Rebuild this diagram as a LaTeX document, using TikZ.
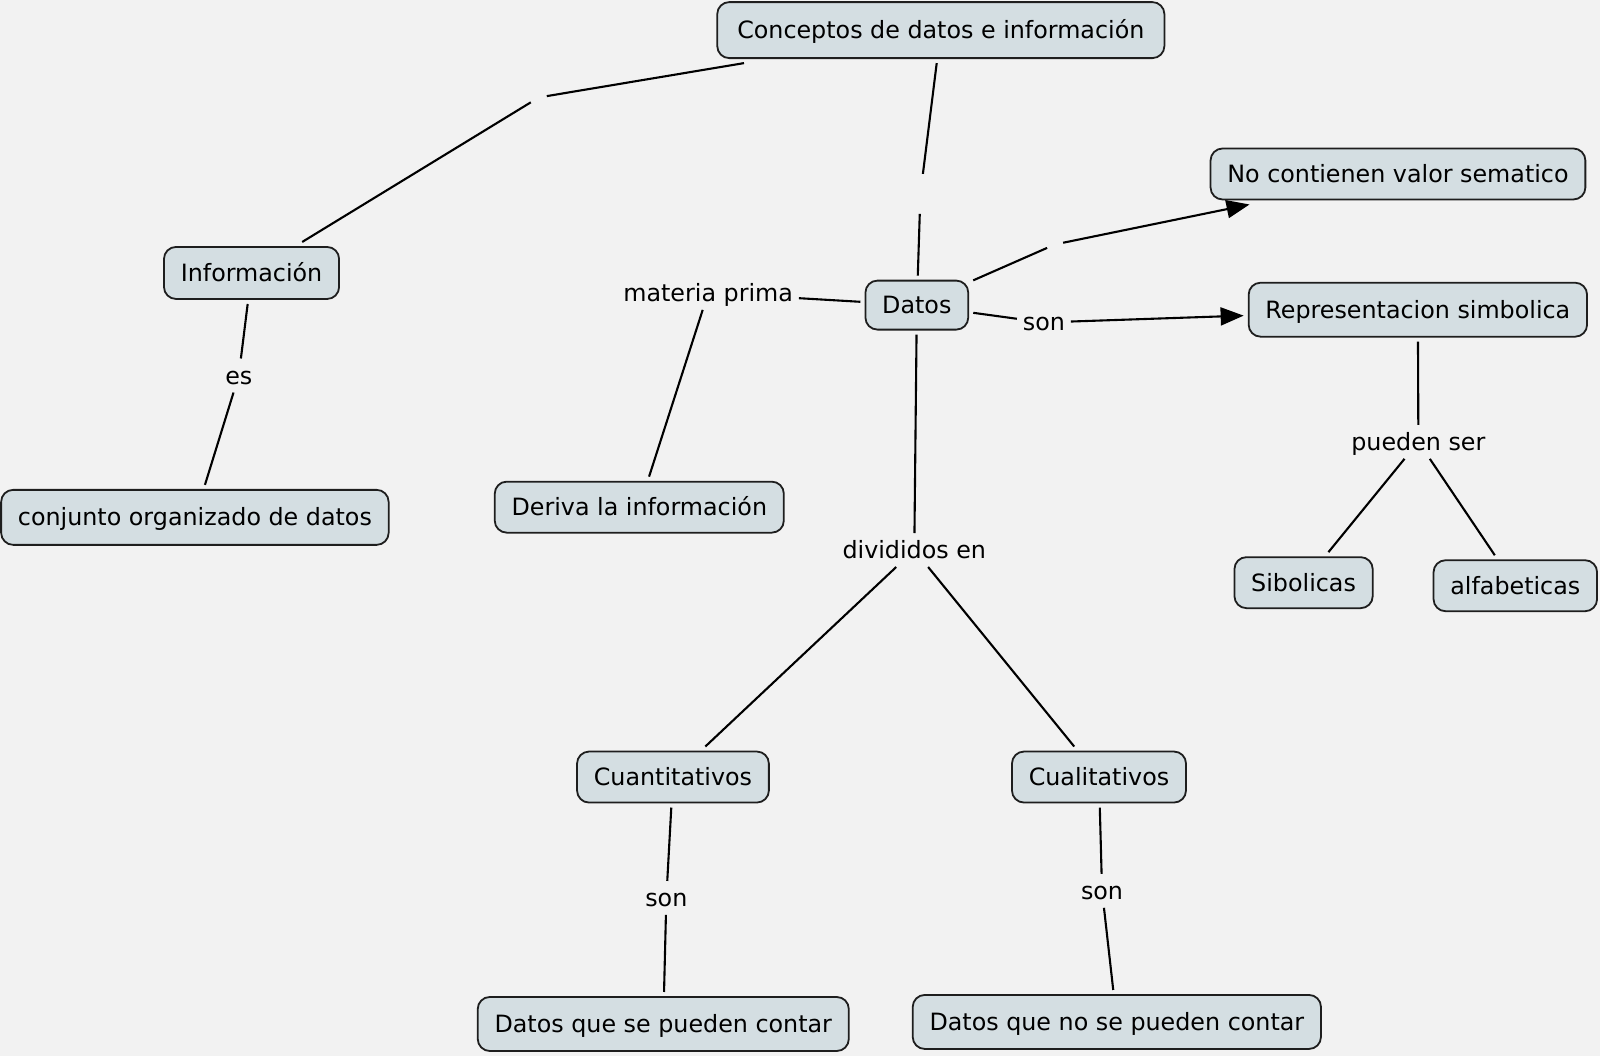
\documentclass[tikz,border=0pt]{standalone}
\usepackage{fontspec}
\setmainfont{DejaVu Sans}
\usetikzlibrary{arrows.meta}
\definecolor{bg}{HTML}{F2F2F2}
\definecolor{boxfill}{HTML}{D4DEE2}
\definecolor{boxline}{HTML}{1E1E1E}
\begin{document}
\begin{tikzpicture}[x=1.0204pt,y=-1.0204pt,
  concept/.style={draw=boxline, line width=1.8pt, fill=boxfill, rounded corners=12pt,
    inner xsep=16.8pt, inner ysep=0pt, minimum height=51pt, outer sep=5pt,
    text height=21.5pt, text depth=4.5pt, font=\fontsize{23.8}{28}\selectfont},
  linklabel/.style={inner xsep=4pt, inner ysep=2pt, outer sep=2pt, text height=21.5pt, text depth=4.5pt,
    font=\fontsize{23.8}{28}\selectfont},
  emptylabel/.style={minimum width=16pt, minimum height=40pt, inner sep=0pt, outer sep=0pt},
  conn/.style={line width=2.1pt, draw=black},
  arr/.style={conn, -{Triangle[length=23pt,width=18pt]}}
]
\fill[bg] (0,0) rectangle (1568,1035);
\useasboundingbox (0,0) rectangle (1568,1035);

% concepts
\node[concept, minimum height=56pt, inner xsep=20pt] (cdi) at (922,29.5) {Conceptos de datos e información};
\node[concept, minimum height=52pt] (inf) at (246.5,267.5) {Información};
\node[concept, minimum height=55pt] (coj) at (191,507) {conjunto organizado de datos};
\node[concept] (der) at (626.5,497) {Deriva la información};
\node[concept, minimum height=49pt] (dat) at (898.5,299) {Datos};
\node[concept] (ncv) at (1370,170.5) {No contienen valor sematico};
\node[concept, minimum height=54pt] (rep) at (1389.5,303.5) {Representacion simbolica};
\node[concept] (sib) at (1277.5,571) {Sibolicas};
\node[concept] (alf) at (1485,574) {alfabeticas};
\node[concept] (cnt) at (659.5,761.5) {Cuantitativos};
\node[concept] (cul) at (1077,761.5) {Cualitativos};
\node[concept, minimum height=54pt] (dsc) at (650,1003.5) {Datos que se pueden contar};
\node[concept, minimum height=54pt] (dnc) at (1094.5,1001.5) {Datos que no se pueden contar};

% link labels
\node[emptylabel] (l1) at (528,95.5) {};
\node[emptylabel] (l2) at (902,190) {};
\node[emptylabel] (l3) at (1034,239.5) {};
\node[linklabel] (les) at (234,368) {es};
\node[linklabel] (lmp) at (694,287) {materia prima};
\node[linklabel] (lson) at (1023,316) {son};
\node[linklabel] (ldiv) at (896,539) {divididos en};
\node[linklabel] (lps) at (1390,433) {pueden ser};
\node[linklabel] (lson2) at (653,880) {son};
\node[linklabel] (lson3) at (1080,873) {son};

% connectors
\draw[conn] (cdi) -- (l1) -- (inf);
\draw[conn] (cdi) -- (l2) -- (dat);
\draw[conn] (inf) -- (les) -- (coj);
\draw[conn] (dat) -- (lmp) -- (der);
\draw[conn] (dat) -- (l3);
\draw[arr] (l3) -- (ncv);
\draw[conn] (dat) -- (lson);
\draw[arr] (lson) -- (rep);
\draw[conn] (rep) -- (lps);
\draw[conn] (lps) -- (sib);
\draw[conn] (lps) -- (alf);
\draw[conn] (dat) -- (ldiv);
\draw[conn] (ldiv) -- (cnt);
\draw[conn] (ldiv) -- (cul);
\draw[conn] (cnt) -- (lson2) -- (dsc);
\draw[conn] (cul) -- (lson3) -- (dnc);
\end{tikzpicture}
\end{document}
